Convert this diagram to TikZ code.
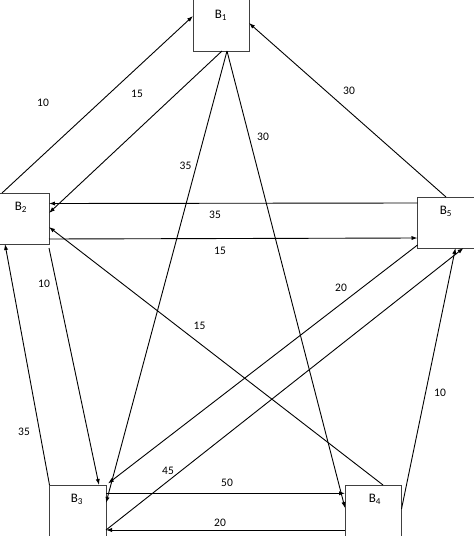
\documentclass[tikz,border=0pt]{standalone}
\usepackage{fontspec}
\setmainfont{Carlito}
\usetikzlibrary{calc,arrows.meta}
\begin{document}
\begin{tikzpicture}[x=1pt,y=-1pt,
  box/.style={draw=black!75,line width=0.9pt,rectangle,inner sep=0pt,outer sep=0pt},
  conn/.style={draw=black,line width=0.9pt,-{Latex[length=6pt,width=4.2pt]}},
  wt/.style={font=\fontsize{11.5}{12}\selectfont,inner sep=0pt},
  bl/.style={font=\fontsize{13}{14}\selectfont,inner sep=0pt}]
\useasboundingbox (0,0) rectangle (474,536);
\clip (0,0) rectangle (474,536);
\fill[white] (0,0) rectangle (474,536);
% boxes
\node[box,minimum width=56pt,minimum height=61pt] (b1) at (221,20.5) {};
\node[box,minimum width=59pt,minimum height=51pt] (b2) at (19.5,218.5) {};
\node[box,minimum width=66.5pt,minimum height=51pt] (b5) at (450.75,222.5) {};
\node[box,minimum width=56.5pt,minimum height=61pt] (b3) at (77.75,515.5) {};
\node[box,minimum width=56.5pt,minimum height=61pt] (b4) at (373.25,515.5) {};
% box labels
\node[bl] (t1) at (221,15) {B\textsubscript{1}};
\node[bl] (t2) at (21,207) {B\textsubscript{2}};
\node[bl] (t5) at (446,211.5) {B\textsubscript{5}};
\node[bl] (t3) at (77,499) {B\textsubscript{3}};
\node[bl] (t4) at (375,499) {B\textsubscript{4}};
% connectors
\draw[conn] ($(b2.north west)+(12,0)$) -- ($(b1.north west)+(0,26)$);
\draw[conn] ($(b1.south west)+(29,0)$) -- ($(b2.north east)+(0,20)$);
\draw[conn] ($(b1.south west)+(34,0)$) -- ($(b3.north east)+(0,18)$);
\draw[conn] ($(b1.south west)+(34,0)$) -- ($(b4.north west)+(0,23)$);
\draw[conn] ($(b5.north west)+(28.5,0)$) -- ($(b1.north east)+(0,33)$);
\draw[conn] ($(b5.north west)+(0,6)$) -- ($(b2.north east)+(0,10.5)$);
\draw[conn] ($(b2.north east)+(0,46)$) -- ($(b5.north west)+(0,41)$);
\draw[conn] ($(b2.south east)+(0,4)$) -- ($(b3.north west)+(49.5,0)$);
\draw[conn] (b3.north west) -- ($(b2.south west)+(15,0)$);
\draw[conn] ($(b4.north west)+(38,0)$) -- ($(b2.north east)+(0,34)$);
\draw[conn] ($(b5.south west)+(0,-3)$) -- ($(b3.north east)+(2,-1.5)$);
\draw[conn] ($(b3.north east)+(0,45)$) -- ($(b5.south west)+(46,0)$);
\draw[conn] ($(b3.north east)+(0,8.3)$) -- ($(b4.north west)+(0,8.3)$);
\draw[conn] ($(b4.north west)+(0,45)$) -- ($(b3.north east)+(0,45)$);
\draw[conn] ($(b4.north east)+(0,24)$) -- ($(b5.south west)+(38,0)$);
% weights
\node[wt] (w1) at (43,103) {10};
\node[wt] (w2) at (137,94) {15};
\node[wt] (w3) at (185.5,166) {35};
\node[wt] (w4) at (263,137) {30};
\node[wt] (w5) at (349,91) {30};
\node[wt] (w6) at (215,215) {35};
\node[wt] (w7) at (220,251) {15};
\node[wt] (w8) at (44,284) {10};
\node[wt] (w9) at (24,432) {35};
\node[wt] (w10) at (199.5,326) {15};
\node[wt] (w11) at (341,288) {20};
\node[wt] (w12) at (168,471) {45};
\node[wt] (w13) at (227,483) {50};
\node[wt] (w14) at (220,523) {20};
\node[wt] (w15) at (440,392.5) {10};
\end{tikzpicture}
\end{document}
